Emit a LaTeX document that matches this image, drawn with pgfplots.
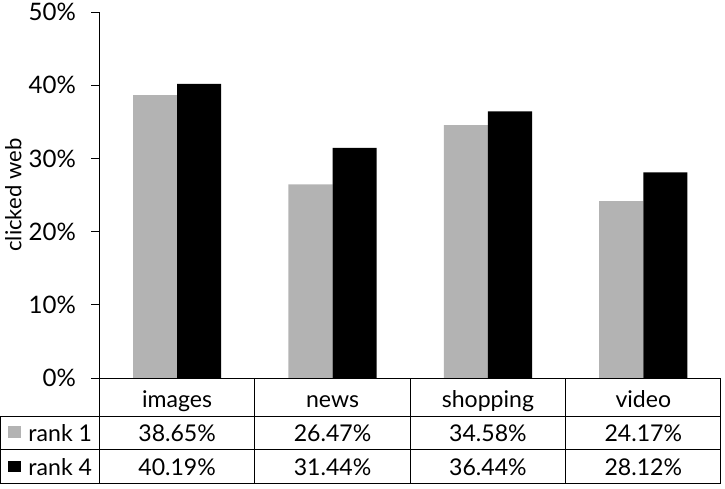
\documentclass[border=0pt]{standalone}
\usepackage{fontspec}
\setmainfont{Lato}
\usepackage{pgfplots}
\pgfplotsset{compat=1.18}
\definecolor{rankgray}{RGB}{179,179,179}

\pgfplotstableread{
x rankone rankfour
0 38.65 40.19
1 26.47 31.44
2 34.58 36.44
3 24.17 28.12
}\clicked

\begin{document}
\begin{tikzpicture}[font=\fontsize{23}{27}\selectfont, line width=1pt]
  \begin{axis}[
      at={(0,0)}, anchor=south west,
      scale only axis,
      width=620pt, height=365pt,
      ybar=0pt, bar width=44pt,
      xmin=-0.5, xmax=3.5,
      ymin=0, ymax=50,
      axis x line=none,
      axis y line*=left,
      y axis line style={line width=1pt},
      tick align=outside,
      major tick length=8pt,
      ytick={0,10,...,50},
      yticklabels={0\%,10\%,20\%,30\%,40\%,50\%},
      yticklabel style={xshift=-12pt, font=\fontsize{24}{28}\selectfont},
      y tick style={line width=1pt, black},
      ylabel={clicked web},
      ylabel style={at={(axis description cs:-0.1258,0.5)}, anchor=base,
        font=\fontsize{22}{26}\selectfont},
      clip=false,
    ]
    \addplot[fill=rankgray, draw=none] table[x=x, y=rankone] {\clicked};
    \addplot[fill=black, draw=none] table[x=x, y=rankfour] {\clicked};
  \end{axis}
  % data table under the chart
  \begin{scope}[x=1pt, y=1pt]
  \draw (-8,0) -- (620,0);
  \foreach \xx in {155,310,465,620} \draw (\xx,0) -- (\xx,-105);
  \draw (0,0) -- (0,-105);
  \draw (-99,-38) -- (620,-38);
  \draw (-99,-71) -- (620,-71);
  \draw (-99,-105) -- (620,-105);
  \draw (-99,-38) -- (-99,-105);
  \foreach \lab [count=\i from 0] in {images,news,shopping,video}
    \node[anchor=base] at (77.5+155*\i,-29) {\lab};
  \foreach \val [count=\i from 0] in {38.65\%,26.47\%,34.58\%,24.17\%}
    \node[anchor=base] at (77.5+155*\i,-63) {\val};
  \foreach \val [count=\i from 0] in {40.19\%,31.44\%,36.44\%,28.12\%}
    \node[anchor=base] at (77.5+155*\i,-97) {\val};
  \fill[rankgray] (-91,-60) rectangle (-78,-48);
  \fill[black] (-91,-94) rectangle (-78,-83);
  \node[anchor=base west, inner sep=0pt] at (-71,-63) {rank 1};
  \node[anchor=base west, inner sep=0pt] at (-71,-97) {rank 4};
  \path (624,-110);
  \end{scope}
\end{tikzpicture}
\end{document}
